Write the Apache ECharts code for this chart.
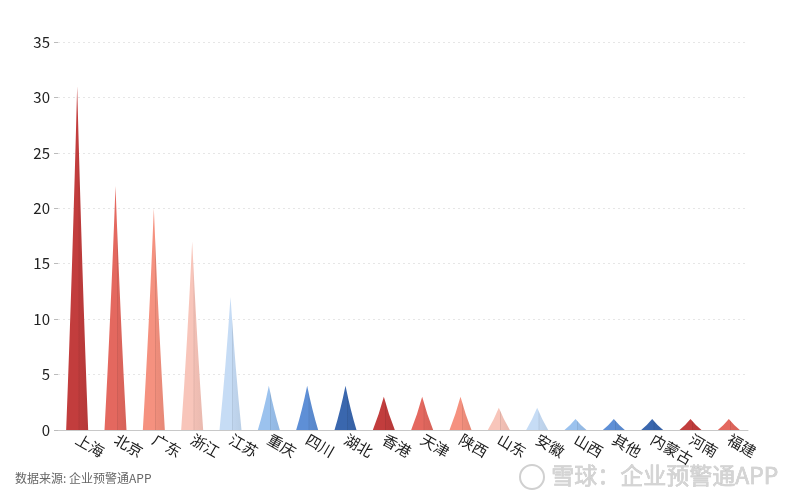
<!DOCTYPE html>
<html>
<head>
<meta charset="utf-8">
<script src="https://cdn.jsdelivr.net/npm/echarts@6/dist/echarts.min.js"></script>
<style>
html,body{margin:0;padding:0;background:#fff;}
#main{width:800px;height:501px;}
</style>
</head>
<body>
<div id="main"></div>
<script>
const categories = ['上海','北京','广东','浙江','江苏','重庆','四川','湖北','香港','天津','陕西','山东','安徽','山西','其他','内蒙古','河南','福建'];
const values = [31, 22, 20, 17, 12, 4, 4, 4, 3, 3, 3, 2, 2, 1, 1, 1, 1, 1];
const palette = ['#c23d3d','#e4685f','#f5917f','#f8c5ba','#c6dcf5','#9bc2ee','#5e8fd6','#3a67ae'];
const yTicks = [0, 5, 10, 15, 20, 25, 30, 35];

function shade(hex, f) {
  const n = parseInt(hex.slice(1), 16);
  let r = (n >> 16) & 255, g = (n >> 8) & 255, b = n & 255;
  r = Math.round(r * f); g = Math.round(g * f); b = Math.round(b * f);
  return 'rgb(' + r + ',' + g + ',' + b + ')';
}

const chart = echarts.init(document.getElementById('main'));
const font = '"Noto Sans CJK SC", "Noto Sans", sans-serif';

chart.setOption({
  backgroundColor: '#fff',
  animation: false,
  grid: { left: 58, right: 52, top: 42, bottom: 71 },
  xAxis: {
    type: 'category',
    data: categories,
    axisLine: { lineStyle: { color: '#c8c8c8', width: 1 } },
    axisTick: { alignWithLabel: true, length: 4, lineStyle: { color: '#c8c8c8' } },
    axisLabel: { rotate: -30, color: '#1a1a1a', fontSize: 15, fontFamily: font, margin: 8, interval: 0 }
  },
  yAxis: {
    type: 'value',
    min: yTicks[0],
    max: yTicks[yTicks.length - 1],
    interval: 5,
    axisLine: { show: false },
    axisTick: { show: true, length: 4, lineStyle: { color: '#bbb' } },
    axisLabel: { color: '#222', fontSize: 15, fontFamily: font, margin: 8 },
    splitLine: { lineStyle: { color: '#e6e6e6', type: [2, 3] } }
  },
  series: [{
    type: 'pictorialBar',
    symbol: 'path://M0,10 L10,10 Q7.2,5.4 5,0 Q2.8,5.4 0,10 Z',
    symbolSize: [22, '100%'],
    data: values.map((v, i) => {
      const c = palette[i % palette.length];
      return {
        value: v,
        itemStyle: {
          color: {
            type: 'linear', x: 0, y: 0, x2: 1, y2: 0,
            colorStops: [
              { offset: 0, color: c },
              { offset: 0.55, color: c },
              { offset: 0.58, color: shade(c, 0.88) },
              { offset: 0.62, color: shade(c, 0.97) },
              { offset: 1, color: shade(c, 0.94) }
            ]
          }
        }
      };
    })
  }],
  graphic: [
    {
      type: 'text', left: 15, top: 472,
      style: { text: '数据来源: 企业预警通APP', fill: '#666', font: '12px ' + font }
    },
    {
      type: 'circle', shape: { cx: 532, cy: 477, r: 12 },
      style: { fill: 'none', stroke: '#d0d0d0', lineWidth: 2 }
    },
    {
      type: 'text', left: 551, top: 464,
      style: { text: '雪球：企业预警通APP', fill: '#d4d4d4', stroke: '#bdbdbd', lineWidth: 0.5, font: '23px ' + font }
    }
  ]
});
</script>
</body>
</html>
